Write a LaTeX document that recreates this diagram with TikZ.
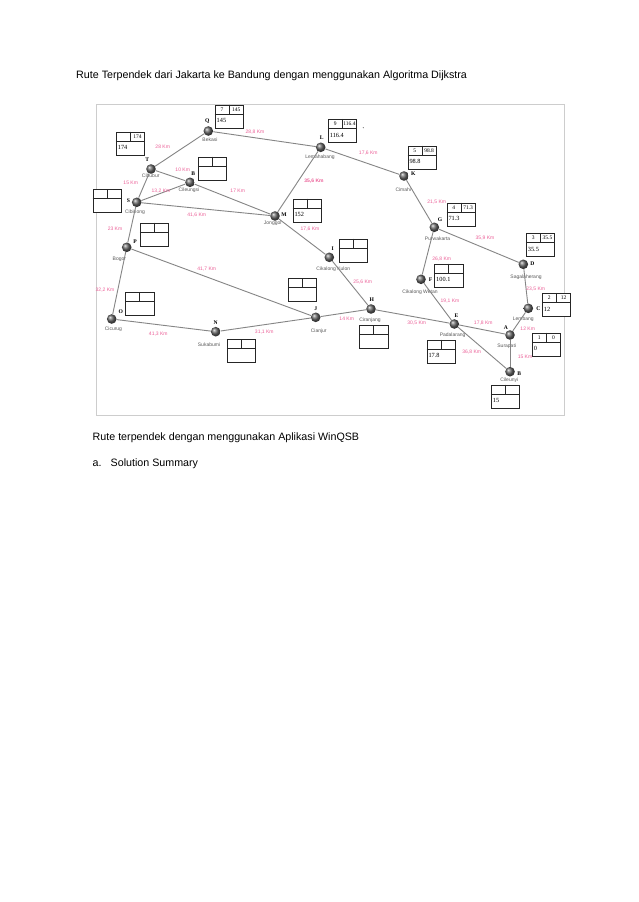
\documentclass[tikz,border=0pt]{standalone}
\usepackage{fontspec}
\setmainfont{Liberation Sans}
\newfontfamily\boxfont{Liberation Serif}
\usetikzlibrary{positioning,calc}
\definecolor{kmpink}{RGB}{236,96,152}
\definecolor{framegray}{RGB}{205,205,205}

% distance box: name, centre, left cell, right cell, value
\newcommand{\distbox}[5]{%
 \node[boxframe] (#1) at (#2) {};
 \draw[boxline] ([yshift=-9.5pt]#1.north west) -- ([yshift=-9.5pt]#1.north east);
 \draw[boxline] ([xshift=14.5pt]#1.north west) -- ([xshift=14.5pt,yshift=-9.5pt]#1.north west);
 \node[boxtext,font=\boxfont\fontsize{5.5}{5.5}\selectfont] (#1-l)
   at ([xshift=7.25pt,yshift=-4.9pt]#1.north west) {#3};
 \node[boxtext,font=\boxfont\fontsize{5.5}{5.5}\selectfont] (#1-r)
   at ([xshift=21.6pt,yshift=-4.9pt]#1.north west) {#4};
 \node[boxtext,anchor=west] (#1-v) at ([xshift=1.8pt,yshift=-16.2pt]#1.north west) {#5};
}

\begin{document}
\begin{tikzpicture}[x=1pt,y=-1pt,
  city/.style={circle,inner sep=0pt,minimum size=9.6pt,shading=ball,ball color=black!60},
  road/.style={line width=.9pt,black!48},
  km/.style={font=\fontsize{5}{5}\selectfont,text=kmpink,inner sep=.5pt},
  tag/.style={font=\boxfont\bfseries\fontsize{5.6}{5.6}\selectfont,inner sep=0pt},
  place/.style={font=\fontsize{5}{5}\selectfont,text=black!65,inner sep=0pt},
  boxframe/.style={draw=black!85,line width=1.05pt,fill=white,minimum width=28.5pt,
    minimum height=23pt,inner sep=0pt},
  boxline/.style={black!85,line width=1.05pt},
  boxtext/.style={font=\boxfont\fontsize{6.3}{6.3}\selectfont,inner sep=0pt},
  page/.style={font=\fontsize{10.7}{12}\selectfont,anchor=base west,inner sep=0pt}]
 \useasboundingbox[fill=white] (0,0) rectangle (638,902);

 \node[page] (title) at (76,78.5)
   {Rute Terpendek dari Jakarta ke Bandung dengan menggunakan Algoritma Dijkstra};
 \node[page] (winqsb) at (92.5,440.5)
   {Rute terpendek dengan menggunakan Aplikasi WinQSB};
 \node[page] (item) at (92.5,466.7) {a.};
 \node[page] (summary) at (110.5,466.7) {Solution Summary};

 \draw[framegray,line width=1pt] (96,104.5) rectangle (564,415);

 % cities: name/x/y/letter/letter offset/place/place offset
 \foreach \n/\x/\y/\t/\lx/\ly/\c/\cx/\cy in {
   Q/208.3/131/Q/-1/-10/Bekasi/1.7/8.3,
   T/151/169/T/-3.7/-9/Cibubur/-0.3/6.7,
   B/190/182.3/B/3.3/-8.3/Cileungsi/-1/7.7,
   S/136.7/202.3/S/-8.3/-1.7/Cibinong/-1.7/9.7,
   M/275/216/M/9/-1.7/Jonggol/-2.3/7.3,
   L/320.7/147.3/L/1/-10/Lemahabang/-0.7/10.3,
   K/404/176/K/9.3/-2/Cimahi/-0.7/14,
   G/434.3/227.3/G/5.7/-8/Purwakarta/3.3/11.3,
   D/523.3/264.3/D/9/-1/Sagalaherang/2.7/13,
   P/126.7/247.3/P/8.3/-5.7/Bogor/-7.3/11.7,
   I/329.3/257.3/I/3.3/-8.3/Cikalong Kulon/4/12,
   F/421/279.3/F/9.7/0/Cikalong Wetan/-1/13,
   C/528.3/308.3/C/10/0/Lembang/-5/11.3,
   O/111.7/319/O/9/-7/Cicurug/1.7/10.7,
   H/371/309/H/0.7/-9/Ciranjang/-1/11,
   J/315.7/317.3/J/0/-9/Cianjur/3/13.7,
   N/215.7/331.7/N/0/-9/Sukabumi/-6.7/12.7,
   E/454.3/324/E/2.3/-8.3/Padalarang/-1.7/11,
   A/510/335/A/-4/-7.7/Surapati/-3.3/11.7,
   B2/510/371.7/B/9.3/1.7/Cileunyi/-0.7/8.3}{
  \node[city] (\n) at (\x,\y) {};
  \node[tag] (\n-id) at ([shift={(\lx,\ly)}]\n) {\t};
  \node[place] (\n-name) at ([shift={(\cx,\cy)}]\n) {\c};
 }

 % roads with their lengths
 \foreach \a/\b/\x/\y/\d in {
   Q/T/162.7/146.7/28 Km, Q/L/255/132.3/{28,8 Km}, T/B/182.7/170/10 Km,
   T/S/130.7/183.3/15 Km, S/B/161/190.7/{13,2 Km}, B/M/237.7/191/17 Km,
   S/M/196.7/214.7/{41,6 Km}, L/M/314/181/{\textbf{35,6 Km}},
   L/K/368.3/152.7/{17,6 Km}, K/G/436.7/202/{21,5 Km}, G/D/485/238.3/{35,9 Km},
   G/F/441.7/259.3/{26,8 Km}, D/C/535.7/289.3/{23,5 Km}, S/P/115/228.3/23 Km,
   P/O/105/290/{32,2 Km}, P/J/206.7/269/{41,7 Km}, M/I/310/229.3/{17,6 Km},
   I/H/362.7/282.3/{25,6 Km}, O/N/158.3/334/{41,3 Km}, N/J/264.3/331.7/{31,1 Km},
   J/H/346.7/318.3/14 Km, H/E/416.7/323.3/{30,5 Km}, F/E/450/301.3/{19,1 Km},
   E/A/483.3/322.7/{17,8 Km}, E/B2/471.7/351.7/{36,8 Km}, C/A/527.7/328.3/12 Km,
   A/B2/525/356.7/15 Km}{
  \draw[road] (\a) -- (\b);
  \node[km] (km-\a-\b) at (\x,\y) {\d};
 }

 % labels of the algorithm
 \foreach \n/\bx/\by/\l/\r/\v in {
   Q/229.5/116.7/7/145/145, T/130.7/143.7/{}/174/174, B/212.7/168.7/{}/{}/{},
   S/107.3/201.3/{}/{}/{}, L/342.7/131/9/116.4/116.4, K/422.3/157.7/5/98.8/98.8,
   M/307.3/210.7/{}/{}/152, G/461.3/214.7/4/71.3/71.3, D/540.7/245.3/3/35.5/35.5,
   P/154.7/234.7/{}/{}/{}, I/353.7/250.7/{}/{}/{}, F/449/275.7/{}/{}/100.1,
   J/302.7/290.3/{}/{}/{}, C/556.7/305/2/12/12, O/140/304.3/{}/{}/{},
   H/374/337.3/{}/{}/{}, N/241.7/351.3/{}/{}/{}, E/441.3/351.7/{}/{}/17.8,
   A/546.7/344.7/1/0/0, B2/505.7/396.7/{}/{}/15}{
  \distbox{box-\n}{\bx,\by}{\l}{\r}{\v}
 }
 \fill[black!60] (363.3,127.7) circle (.6);
\end{tikzpicture}
\end{document}
